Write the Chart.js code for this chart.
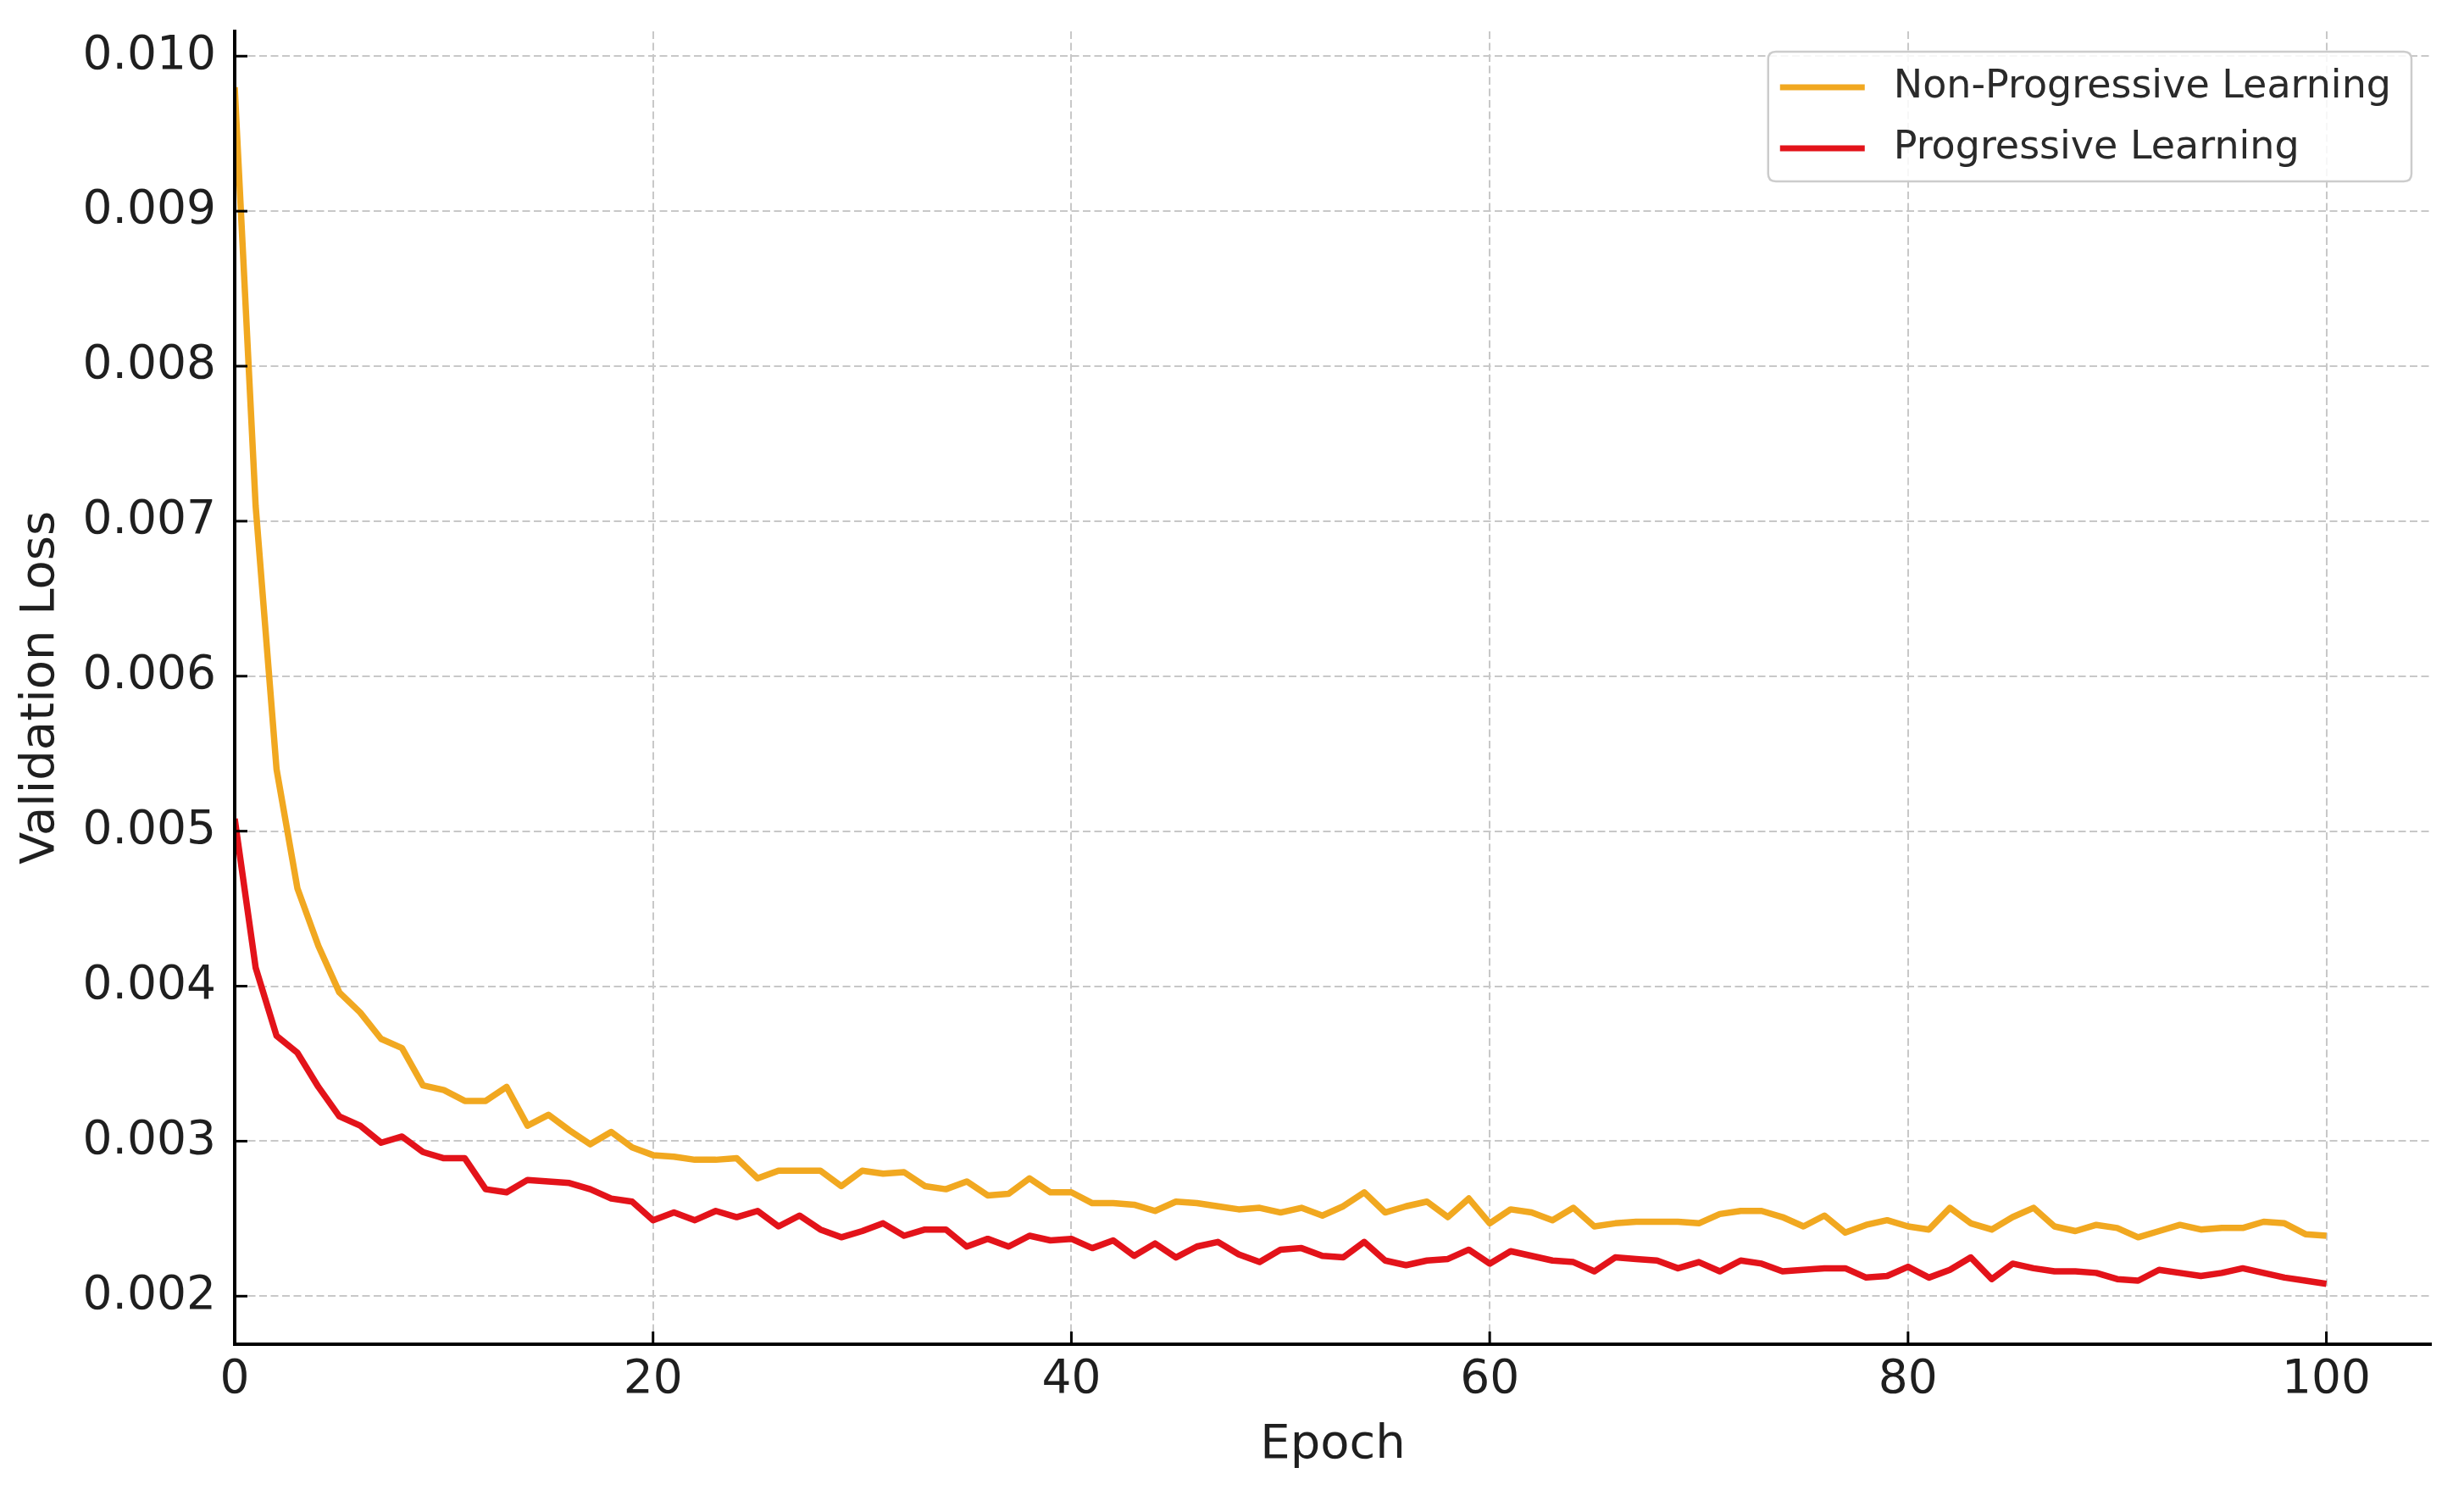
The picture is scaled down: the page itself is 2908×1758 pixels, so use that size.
<!DOCTYPE html>
<html>
<head>
<meta charset="utf-8">
<script src="https://cdn.jsdelivr.net/npm/chart.js@4.4.1/dist/chart.umd.min.js"></script>
<style>
html,body{margin:0;padding:0;background:#ffffff;overflow:hidden;}
#wrap{width:2908px;height:1758px;position:relative;background:#ffffff;}
canvas{display:block;}
</style>
</head>
<body>
<div id="wrap"><canvas id="c" width="2908" height="1758"></canvas></div>
<script>
// ---- data ----
const epochs = [0,1,2,3,4,5,6,7,8,9,10,11,12,13,14,15,16,17,18,19,20,21,22,23,24,25,26,27,28,29,30,31,32,33,34,35,36,37,38,39,40,41,42,43,44,45,46,47,48,49,50,51,52,53,54,55,56,57,58,59,60,61,62,63,64,65,66,67,68,69,70,71,72,73,74,75,76,77,78,79,80,81,82,83,84,85,86,87,88,89,90,91,92,93,94,95,96,97,98,99,100];

const nonProgressive = [
  0.0098, 0.0071, 0.0054, 0.00463, 0.00426, 0.00396, 0.00383, 0.00366, 0.00360, 0.00336,
  0.00333, 0.00326, 0.00326, 0.00335, 0.00310, 0.00317, 0.00307, 0.00298, 0.00306, 0.00296,
  0.00291, 0.00290, 0.00288, 0.00288, 0.00289, 0.00276, 0.00281, 0.00281, 0.00281, 0.00271,
  0.00281, 0.00279, 0.00280, 0.00271, 0.00269, 0.00274, 0.00265, 0.00266, 0.00276, 0.00267,
  0.00267, 0.00260, 0.00260, 0.00259, 0.00255, 0.00261, 0.00260, 0.00258, 0.00256, 0.00257,
  0.00254, 0.00257, 0.00252, 0.00258, 0.00267, 0.00254, 0.00258, 0.00261, 0.00251, 0.00263,
  0.00247, 0.00256, 0.00254, 0.00249, 0.00257, 0.00245, 0.00247, 0.00248, 0.00248, 0.00248,
  0.00247, 0.00253, 0.00255, 0.00255, 0.00251, 0.00245, 0.00252, 0.00241, 0.00246, 0.00249,
  0.00245, 0.00243, 0.00257, 0.00247, 0.00243, 0.00251, 0.00257, 0.00245, 0.00242, 0.00246,
  0.00244, 0.00238, 0.00242, 0.00246, 0.00243, 0.00244, 0.00244, 0.00248, 0.00247, 0.00240,
  0.00239
];

const progressive = [
  0.00508, 0.00412, 0.00368, 0.00357, 0.00335, 0.00316, 0.00310, 0.00299, 0.00303, 0.00293,
  0.00289, 0.00289, 0.00269, 0.00267, 0.00275, 0.00274, 0.00273, 0.00269, 0.00263, 0.00261,
  0.00249, 0.00254, 0.00249, 0.00255, 0.00251, 0.00255, 0.00245, 0.00252, 0.00243, 0.00238,
  0.00242, 0.00247, 0.00239, 0.00243, 0.00243, 0.00232, 0.00237, 0.00232, 0.00239, 0.00236,
  0.00237, 0.00231, 0.00236, 0.00226, 0.00234, 0.00225, 0.00232, 0.00235, 0.00227, 0.00222,
  0.00230, 0.00231, 0.00226, 0.00225, 0.00235, 0.00223, 0.00220, 0.00223, 0.00224, 0.00230,
  0.00221, 0.00229, 0.00226, 0.00223, 0.00222, 0.00216, 0.00225, 0.00224, 0.00223, 0.00218,
  0.00222, 0.00216, 0.00223, 0.00221, 0.00216, 0.00217, 0.00218, 0.00218, 0.00212, 0.00213,
  0.00219, 0.00212, 0.00217, 0.00225, 0.00211, 0.00221, 0.00218, 0.00216, 0.00216, 0.00215,
  0.00211, 0.00210, 0.00217, 0.00215, 0.00213, 0.00215, 0.00218, 0.00215, 0.00212, 0.00210,
  0.00208
];

const seriesLabels = ['Non-Progressive Learning', 'Progressive Learning'];
const xTickValues = [0, 20, 40, 60, 80, 100];
const yTickValues = [0.002, 0.003, 0.004, 0.005, 0.006, 0.007, 0.008, 0.009, 0.010];

// ---- styling ----
const FONT = "'DejaVu Sans', 'Liberation Sans', sans-serif";
const ORANGE = '#F1A820';
const RED = '#E3131A';
const GRID = '#c8c8c8';
const TEXT = '#1f1f1f';

const toPoints = (vals) => epochs.map((e, i) => ({x: e, y: vals[i]}));

// spines + inward ticks drawn on top of the lines (like matplotlib)
const axesOverlay = {
  id: 'axesOverlay',
  afterDatasetsDraw(chart) {
    const {ctx, chartArea: a, scales: {x, y}} = chart;
    ctx.save();
    ctx.strokeStyle = '#000';
    ctx.lineCap = 'butt';
    ctx.lineWidth = 3;
    x.ticks.forEach(t => {
      const px = x.getPixelForValue(t.value);
      ctx.beginPath(); ctx.moveTo(px, a.bottom); ctx.lineTo(px, a.bottom - 15); ctx.stroke();
    });
    y.ticks.forEach(t => {
      const py = y.getPixelForValue(t.value);
      ctx.beginPath(); ctx.moveTo(a.left, py); ctx.lineTo(a.left + 15, py); ctx.stroke();
    });
    ctx.lineWidth = 4;
    ctx.beginPath(); ctx.moveTo(a.left, a.top); ctx.lineTo(a.left, a.bottom + 2); ctx.stroke();
    ctx.beginPath(); ctx.moveTo(a.left - 2, a.bottom); ctx.lineTo(a.right, a.bottom); ctx.stroke();
    ctx.restore();
  }
};

// legend box in the upper right (matplotlib style)
const boxLegend = {
  id: 'boxLegend',
  afterDraw(chart) {
    const {ctx, chartArea: a} = chart;
    const ds = chart.data.datasets;
    ctx.save();
    ctx.font = '46px ' + FONT;
    let tw = 0;
    ds.forEach(d => { tw = Math.max(tw, ctx.measureText(d.label).width); });
    const w = 150 + tw + 22;
    const h = 153;
    const right = a.right - 23;
    const left = right - w;
    const top = a.top + 24;
    const r = 9;
    ctx.beginPath();
    ctx.moveTo(left + r, top);
    ctx.lineTo(left + w - r, top);
    ctx.quadraticCurveTo(left + w, top, left + w, top + r);
    ctx.lineTo(left + w, top + h - r);
    ctx.quadraticCurveTo(left + w, top + h, left + w - r, top + h);
    ctx.lineTo(left + r, top + h);
    ctx.quadraticCurveTo(left, top + h, left, top + h - r);
    ctx.lineTo(left, top + r);
    ctx.quadraticCurveTo(left, top, left + r, top);
    ctx.closePath();
    ctx.fillStyle = 'rgba(255,255,255,0.85)';
    ctx.fill();
    ctx.strokeStyle = '#cccccc';
    ctx.lineWidth = 2.5;
    ctx.stroke();
    ds.forEach((d, i) => {
      const cy = top + 42 + i * 72;
      ctx.strokeStyle = d.borderColor;
      ctx.lineWidth = 7;
      ctx.lineCap = 'butt';
      ctx.beginPath(); ctx.moveTo(left + 14, cy); ctx.lineTo(left + 114, cy); ctx.stroke();
      ctx.fillStyle = '#2a2a2a';
      ctx.textBaseline = 'middle';
      ctx.textAlign = 'left';
      ctx.fillText(d.label, left + 148, cy);
    });
    ctx.restore();
  }
};

new Chart(document.getElementById('c'), {
  type: 'line',
  data: {
    datasets: [
      {label: seriesLabels[0], data: toPoints(nonProgressive), borderColor: ORANGE, backgroundColor: ORANGE},
      {label: seriesLabels[1], data: toPoints(progressive), borderColor: RED, backgroundColor: RED}
    ]
  },
  options: {
    responsive: false,
    animation: false,
    devicePixelRatio: 1,
    layout: {padding: {left: 0, right: 39, top: 37, bottom: 0}},
    elements: {
      point: {radius: 0, hoverRadius: 0},
      line: {tension: 0, borderWidth: 7.5, borderCapStyle: 'butt', borderJoinStyle: 'round', fill: false}
    },
    plugins: {legend: {display: false}, tooltip: {enabled: false}},
    scales: {
      x: {
        type: 'linear',
        min: 0,
        max: 105,
        afterBuildTicks: (ax) => { ax.ticks = xTickValues.map(v => ({value: v})); },
        afterFit: (ax) => { ax.height = 172; ax.paddingLeft = 0; ax.paddingRight = 0; },
        grid: {color: GRID, lineWidth: 2, drawTicks: false},
        border: {display: true, color: '#000', width: 4, dash: [9, 4.5]},
        ticks: {color: TEXT, font: {family: FONT, size: 55}, padding: 10, maxRotation: 0,
                callback: (v) => String(v)},
        title: {display: true, text: 'Epoch', color: TEXT, font: {family: FONT, size: 56},
                padding: {top: 0, bottom: 19}}
      },
      y: {
        type: 'linear',
        min: 0.00169,
        max: 0.01016,
        afterBuildTicks: (ax) => { ax.ticks = yTickValues.map(v => ({value: v})); },
        afterFit: (ax) => { ax.width = 277; ax.paddingTop = 0; ax.paddingBottom = 0; },
        grid: {color: GRID, lineWidth: 2, drawTicks: false},
        border: {display: true, color: '#000', width: 4, dash: [9, 4.5]},
        ticks: {color: TEXT, font: {family: FONT, size: 55}, padding: 22,
                callback: (v) => Number(v).toFixed(3)},
        title: {display: true, text: 'Validation Loss', color: TEXT, font: {family: FONT, size: 56},
                padding: {top: 15, bottom: 0}}
      }
    }
  },
  plugins: [axesOverlay, boxLegend]
});
</script>
</body>
</html>
